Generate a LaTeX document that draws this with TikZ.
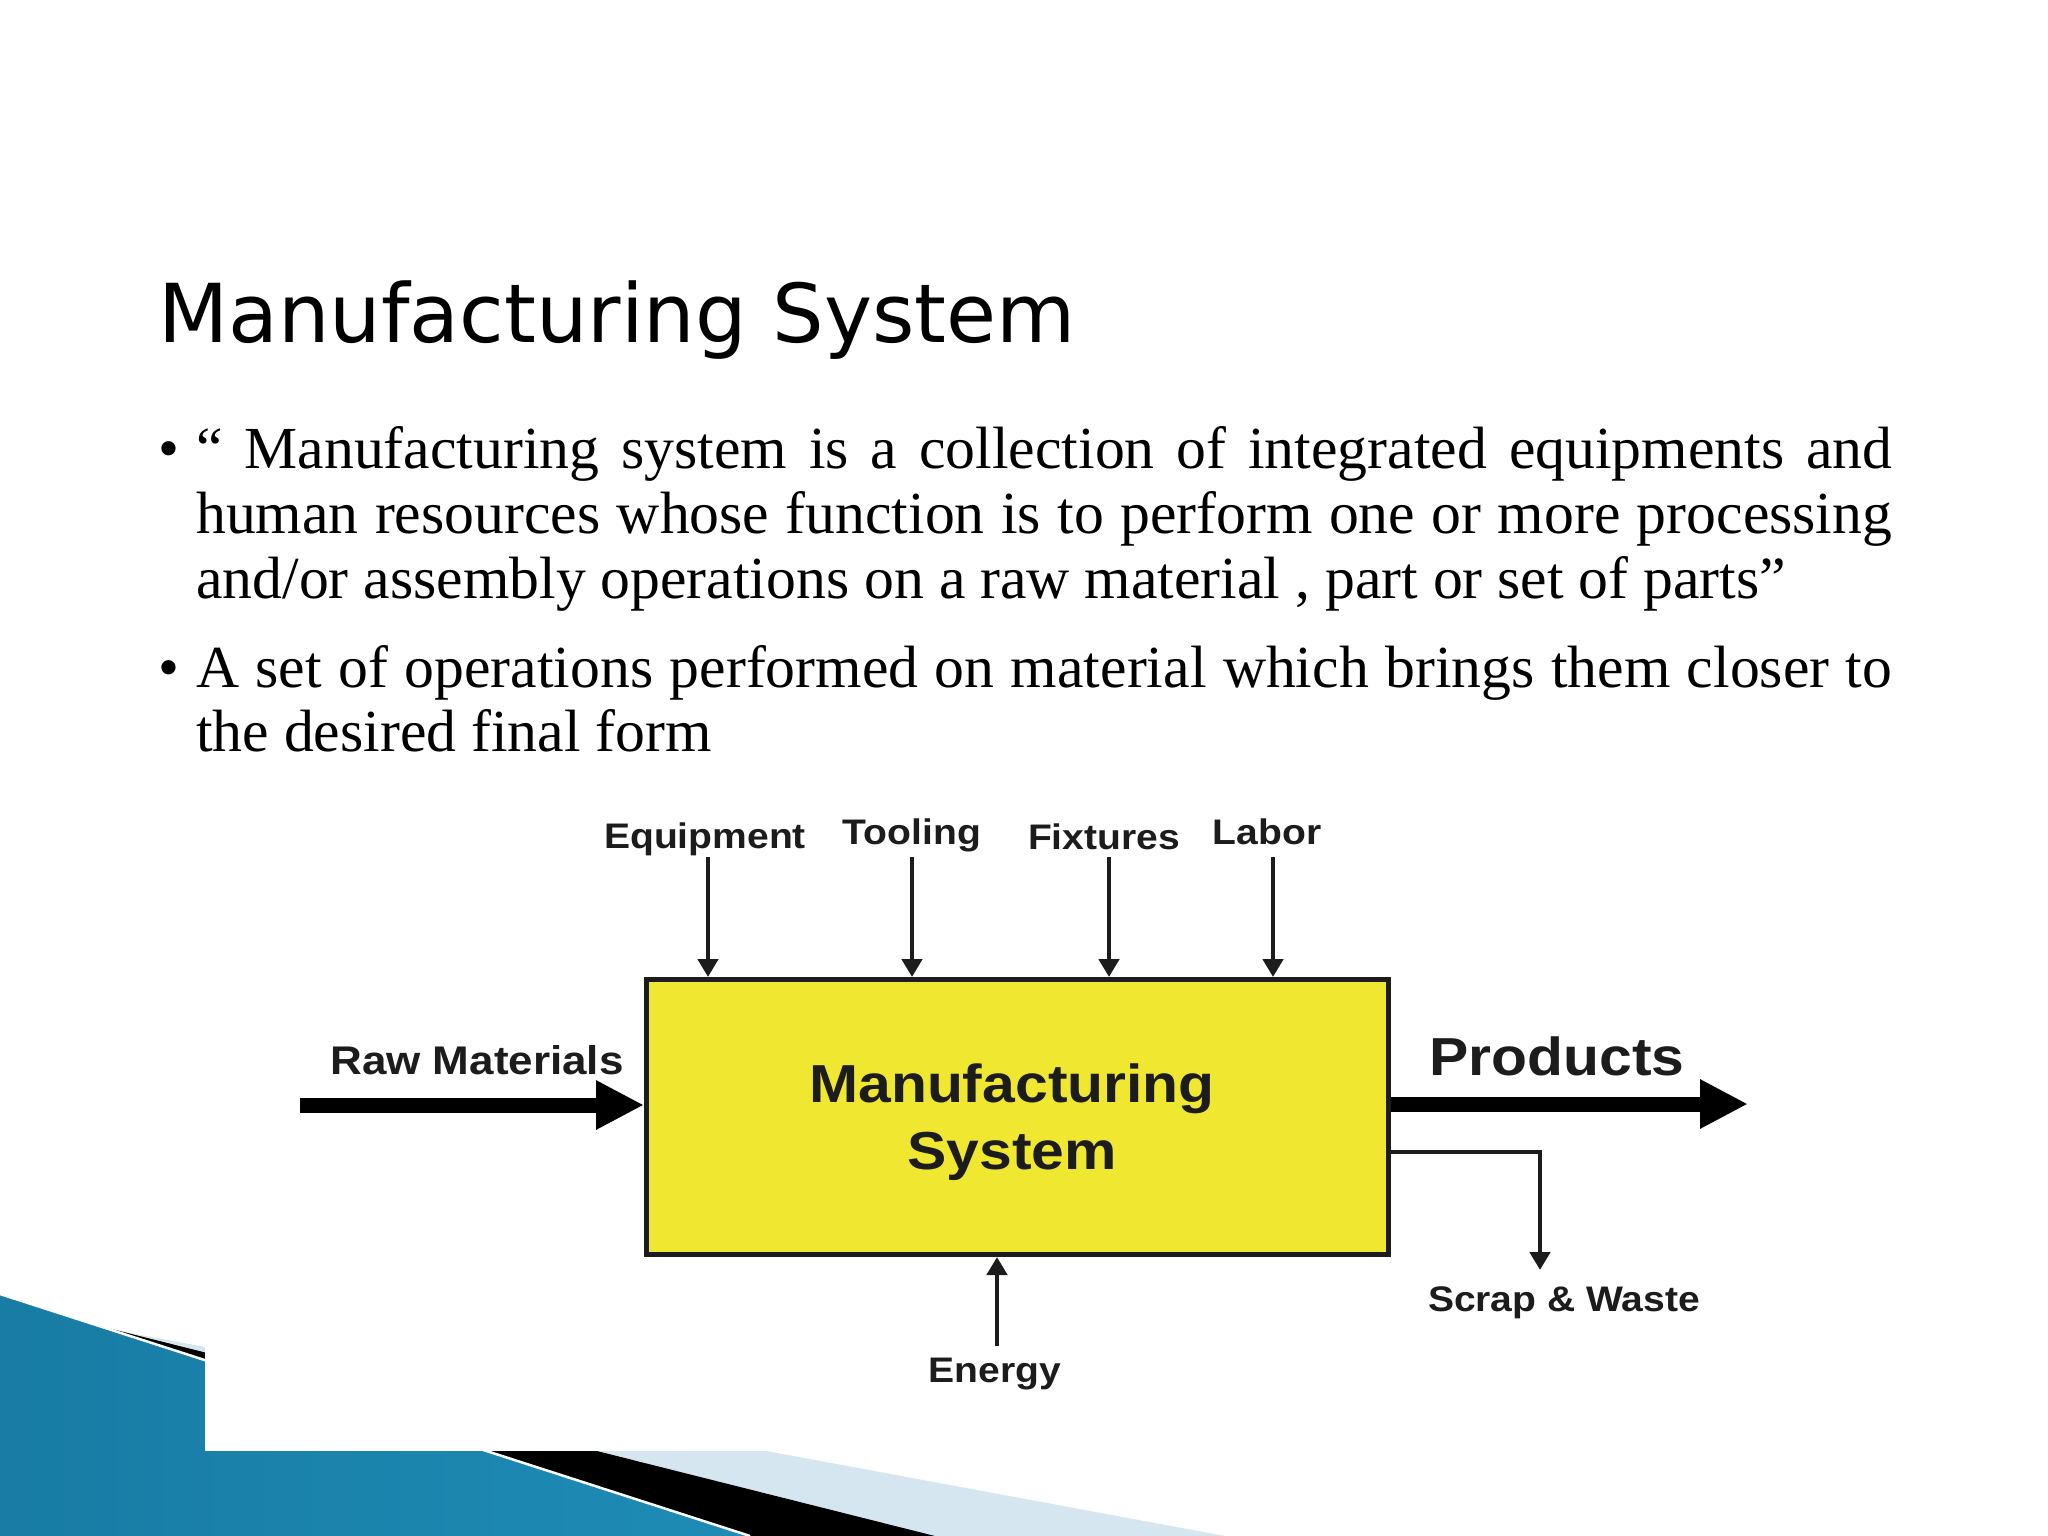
\documentclass[tikz,border=0pt]{standalone}
\usepackage{fontspec}
\setmainfont{Liberation Serif}
\newfontfamily\titlefont{DejaVu Sans}
\newfontfamily\diagfont[FakeStretch=1.1]{Liberation Sans}
\usetikzlibrary{arrows.meta}
\definecolor{boxyellow}{RGB}{240,232,48}
\definecolor{inkdark}{RGB}{28,28,28}
\definecolor{tealdark}{RGB}{24,124,164}
\definecolor{teallight}{RGB}{88,188,222}
\definecolor{tealmid}{RGB}{30,140,182}
\definecolor{paleblue}{RGB}{214,230,240}
\tikzset{
  bodytext/.style={inner sep=0pt, font=\fontsize{59.7pt}{65pt}\selectfont},
  titletext/.style={inner sep=0pt, font=\titlefont\fontsize{81.3pt}{90pt}\selectfont},
  smalllabel/.style={inner sep=0pt, text=inkdark, font=\diagfont\bfseries\fontsize{35.5pt}{40pt}\selectfont},
  midlabel/.style={inner sep=0pt, text=inkdark, font=\diagfont\bfseries\fontsize{40pt}{45pt}\selectfont},
  biglabel/.style={inner sep=0pt, text=inkdark, font=\diagfont\bfseries\fontsize{53.5pt}{60pt}\selectfont},
  thinarr/.style={draw=inkdark, line width=4.5pt, -{Triangle[width=20pt,length=18pt]}},
  thickarr/.style={draw=black, line width=15pt, -{Triangle[width=46pt,length=48pt]}},
  sysbox/.style={draw=inkdark, line width=5pt, fill=boxyellow, inner sep=0pt, anchor=north west}
}
\begin{document}
\begin{tikzpicture}[x=1pt,y=-1pt]
\useasboundingbox (0,0) rectangle (2048,1536);
\fill[white] (0,0) rectangle (2048,1536);
% corner decoration
\shade[left color=tealdark, middle color=teallight, right color=tealmid]
  (0,1294) -- (750,1536) -- (0,1536) -- cycle;
\fill[paleblue] (130,1333) -- (1225,1536) -- (935,1536) -- cycle;
\fill[black] (100,1326) -- (935,1536) -- (750,1536) -- cycle;
\draw[white, line width=2.5pt] (0,1294) -- (750,1536);
% white background of the diagram
\fill[white] (205,800) rectangle (1800,1451);
% title
\node[titletext, anchor=base west] (title) at (158,342) {Manufacturing System};
% bullets
\node[bodytext, anchor=base west] (b1) at (158,468) {•};
\node[bodytext, anchor=base west] (l1) at (196,468) {\makebox[1696pt][s]{“ Manufacturing system is a collection of integrated equipments and}};
\node[bodytext, anchor=base west] (l2) at (196,533) {\makebox[1696pt][s]{human resources whose function is to perform one or more processing}};
\node[bodytext, anchor=base west] (l3) at (196,598) {and/or assembly operations on a raw material , part or set of parts”};
\node[bodytext, anchor=base west] (b2) at (158,687) {•};
\node[bodytext, anchor=base west] (l4) at (196,687) {\makebox[1696pt][s]{A set of operations performed on material which brings them closer to}};
\node[bodytext, anchor=base west] (l5) at (196,751) {the desired final form};
% diagram
\node[sysbox, minimum width=742pt, minimum height=275pt] (box) at (644,977) {};
\node[biglabel, anchor=base] (mfg1) at (1012,1102) {Manufacturing};
\node[biglabel, anchor=base] (mfg2) at (1012,1169) {System};
\node[smalllabel, anchor=base] (equip) at (705,848) {Equipment};
\node[smalllabel, anchor=base] (tool) at (912,844) {Tooling};
\node[smalllabel, anchor=base] (fix) at (1104,849) {Fixtures};
\node[smalllabel, anchor=base] (labor) at (1267,844) {Labor};
\node[midlabel, anchor=base] (raw) at (477,1074) {Raw Materials};
\node[biglabel, anchor=base] (prod) at (1557,1075) {Products};
\node[smalllabel, anchor=base] (scrap) at (1564,1311) {Scrap \& Waste};
\node[smalllabel, anchor=base] (energy) at (995,1382) {Energy};
\coordinate (eqa) at (708,857);
\coordinate (toa) at (912,857);
\coordinate (fia) at (1109,857);
\coordinate (laa) at (1273,857);
\coordinate (ena) at (997,1346);
\coordinate (rawa) at (300,1105);
\coordinate (prtip) at (1748,1104);
\coordinate (scrapturn) at (1540,1152);
\coordinate (scraptip) at (1540,1270);
\draw[thinarr] (eqa) -- (eqa |- box.north);
\draw[thinarr] (toa) -- (toa |- box.north);
\draw[thinarr] (fia) -- (fia |- box.north);
\draw[thinarr] (laa) -- (laa |- box.north);
\draw[thinarr] (ena) -- (ena |- box.south);
\draw[thickarr] (rawa) -- (rawa -| box.west);
\draw[thickarr] (box.east |- prtip) -- (prtip);
\draw[thinarr] (box.east |- scrapturn) -- (scrapturn) -- (scraptip);
\end{tikzpicture}
\end{document}
